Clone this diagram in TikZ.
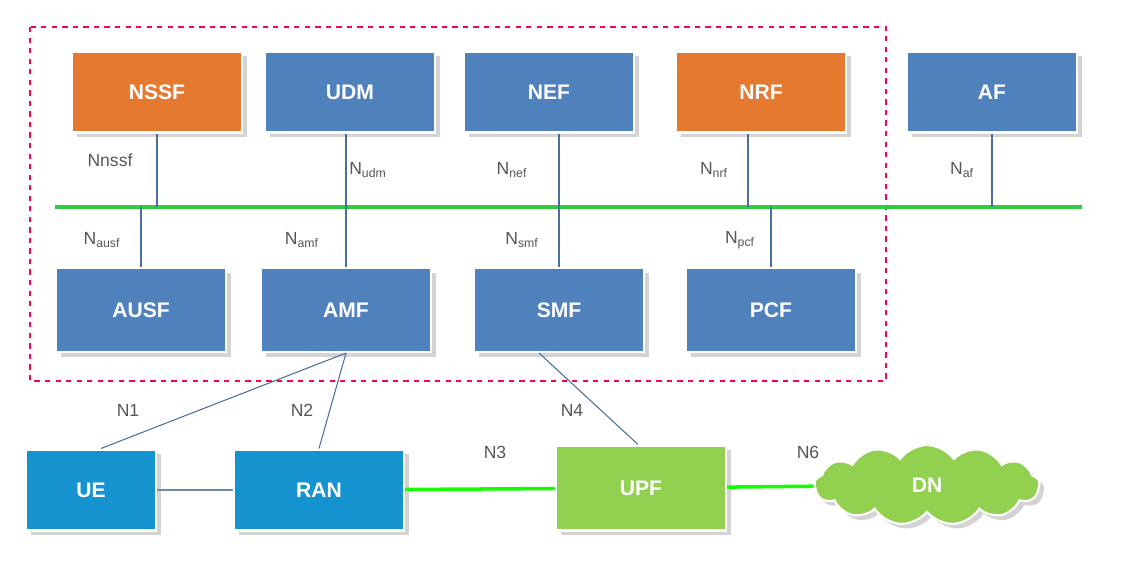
\documentclass[tikz,border=0pt]{standalone}
\usepackage{fontspec}
\setmainfont{Liberation Sans}
\usetikzlibrary{shapes.symbols,shadows}
\definecolor{nfblue}{HTML}{4F81BD}
\definecolor{nforange}{HTML}{E5792F}
\definecolor{anblue}{HTML}{1593CF}
\definecolor{upgreen}{HTML}{92D050}
\definecolor{busgreen}{HTML}{2FCB45}
\definecolor{lblgrey}{HTML}{555555}
\definecolor{lnblue}{HTML}{4A6F9C}
\tikzset{
  nf/.style={draw=white, line width=1.2pt, fill=nfblue, text=white, font=\bfseries\large,
    minimum width=3.4cm, minimum height=1.62cm, drop shadow={opacity=0.35}},
  lbl/.style={text=lblgrey, font=\normalsize},
  link/.style={draw=lnblue, line width=0.6pt}
}
\begin{document}
\begin{tikzpicture}[x=0.02cm,y=-0.02cm]
\useasboundingbox (0,0) rectangle (1129,569);

% core frame
\draw[red!70!magenta, dashed, line width=0.8pt] (30,27) rectangle (886,381);

% top row
\node[nf, fill=nforange] (nssf) at (157,92) {NSSF};
\node[nf] (udm) at (350,92) {UDM};
\node[nf] (nef) at (549,92) {NEF};
\node[nf, fill=nforange] (nrf) at (761,92) {NRF};
\node[nf] (af) at (992,92) {AF};

% bottom row
\node[nf, minimum height=1.68cm] (ausf) at (141,310) {AUSF};
\node[nf, minimum height=1.68cm] (amf) at (346,310) {AMF};
\node[nf, minimum height=1.68cm] (smf) at (559,310) {SMF};
\node[nf, minimum height=1.68cm] (pcf) at (771,310) {PCF};

% access and user plane
\node[nf, fill=anblue, minimum width=2.6cm] (ue) at (91,490) {UE};
\node[nf, fill=anblue] (ran) at (319,490) {RAN};
\node[nf, fill=upgreen, minimum height=1.7cm] (upf) at (641,488) {UPF};
\node[cloud, cloud puffs=13, cloud puff arc=110, aspect=2.6, draw=white, line width=1.2pt,
  fill=upgreen, text=white, font=\bfseries\large, minimum width=4.5cm, minimum height=1.6cm,
  drop shadow={opacity=0.35}] (dn) at (927,485) {DN};

% service bus
\coordinate (busL) at (55,207);
\coordinate (busR) at (1082,207);
\coordinate (nrfx) at (748,207);
\draw[busgreen, line width=2pt] (busL) -- (busR);

\draw[link] (nssf) -- (nssf |- busL);
\draw[link] (udm.south -| amf) -- (amf |- busL);
\draw[link] (nef.south -| smf) -- (smf |- busL);
\draw[link] (nrf.south -| nrfx) -- (nrfx);
\draw[link] (af) -- (af |- busL);
\draw[link] (ausf) -- (ausf |- busL);
\draw[link] (amf) -- (amf |- busL);
\draw[link] (smf) -- (smf |- busL);
\draw[link] (pcf) -- (pcf |- busL);

\draw[link] (amf.south) -- ([xshift=0.2cm]ue.north);
\draw[link] (amf.south) -- (ran.north);
\draw[link] ([xshift=-0.4cm]smf.south) -- ([xshift=-0.06cm]upf.north);
\draw[draw=lnblue!80, line width=1.2pt] (ue) -- (ran);
\draw[green!90!lime, line width=2pt] (ran) -- (upf);
\draw[green!90!lime, line width=2pt] (upf) -- (dn);

% labels
\node[lbl] at (110,160) {Nnssf};
\node[lbl] at (368,170) {N$_{\mathrm{udm}}$};
\node[lbl] at (512,170) {N$_{\mathrm{nef}}$};
\node[lbl] at (714,170) {N$_{\mathrm{nrf}}$};
\node[lbl] at (962,170) {N$_{\mathrm{af}}$};
\node[lbl] at (102,240) {N$_{\mathrm{ausf}}$};
\node[lbl] at (302,240) {N$_{\mathrm{amf}}$};
\node[lbl] at (522,240) {N$_{\mathrm{smf}}$};
\node[lbl] at (740,240) {N$_{\mathrm{pcf}}$};
\node[lbl] at (128,410) {N1};
\node[lbl] at (302,410) {N2};
\node[lbl] at (572,410) {N4};
\node[lbl] at (495,452) {N3};
\node[lbl] at (808,452) {N6};
\end{tikzpicture}
\end{document}
